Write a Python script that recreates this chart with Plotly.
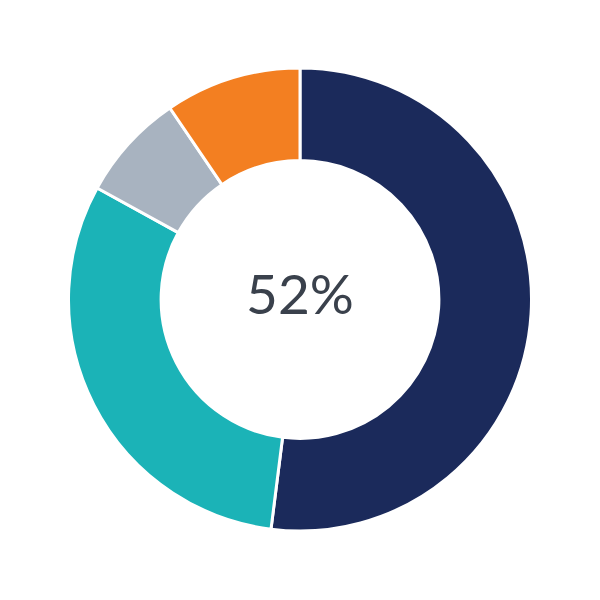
import plotly.graph_objects as go

labels = ["A", "B", "C", "D"]
values = [52, 31, 7.5, 9.5]
colors = ["#1b2a5b", "#1bb3b7", "#a8b3c0", "#f37f21"]
center_text = "52%"

fig = go.Figure(go.Pie(
    labels=labels,
    values=values,
    hole=0.6,
    sort=False,
    direction="clockwise",
    rotation=0,
    marker=dict(colors=colors, line=dict(color="white", width=3)),
    textinfo="none",
    hoverinfo="label+percent",
    showlegend=False,
))
fig.update_layout(
    width=600, height=600,
    margin=dict(l=60, r=76, t=60, b=77),
    paper_bgcolor="white",
    annotations=[dict(text=center_text, x=0.5, y=0.5, xref="paper", yref="paper",
                      yshift=7,
                      showarrow=False, font=dict(family="Lato", size=55, color="#3a414c"))],
)
fig.write_html("out.html")
